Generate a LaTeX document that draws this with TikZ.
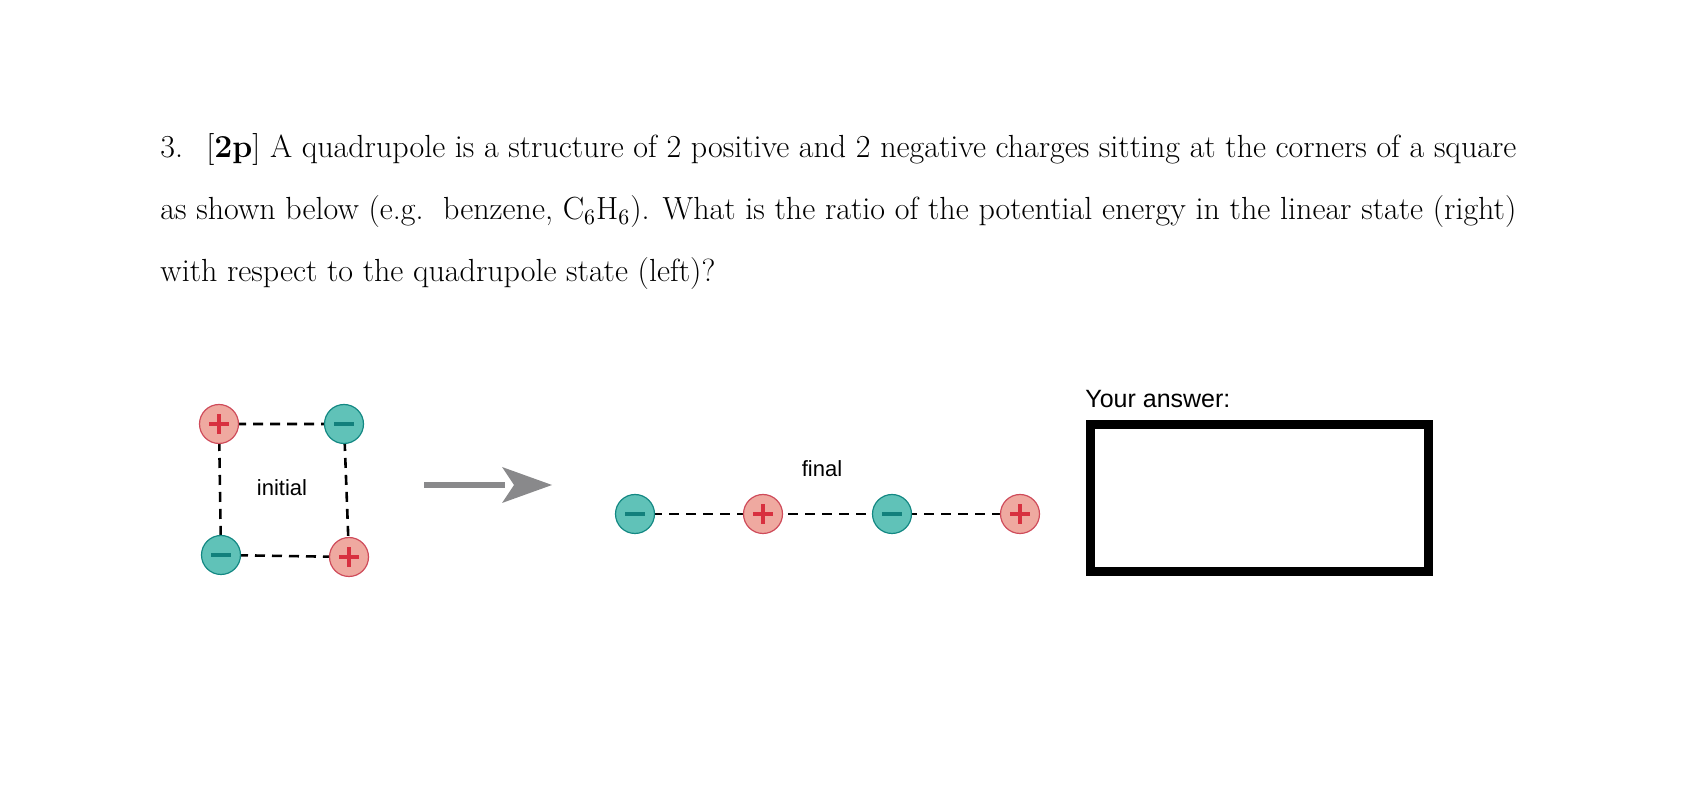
\documentclass[tikz,border=0pt]{standalone}
\usepackage{fontspec}
\newfontfamily\lab{Liberation Sans}
\definecolor{pfill}{HTML}{EFA9A0}
\definecolor{pdraw}{HTML}{CF4B5A}
\definecolor{psign}{HTML}{D8303F}
\definecolor{mfill}{HTML}{60C2B8}
\definecolor{mdraw}{HTML}{138883}
\definecolor{msign}{HTML}{12807C}
\definecolor{arrgray}{HTML}{89898B}
\begin{document}
\begin{tikzpicture}[x=0.5pt,y=-0.5pt,
  poscharge/.style={circle,fill=pfill,draw=pdraw,line width=0.6pt,minimum size=19.5pt,inner sep=0pt,
    path picture={\draw[psign,line width=1.6pt] ([xshift=-5pt]path picture bounding box.center)--([xshift=5pt]path picture bounding box.center) ([yshift=-5pt]path picture bounding box.center)--([yshift=5pt]path picture bounding box.center);}},
  negcharge/.style={circle,fill=mfill,draw=mdraw,line width=0.6pt,minimum size=19.5pt,inner sep=0pt,
    path picture={\draw[msign,line width=1.8pt] ([xshift=-5pt]path picture bounding box.center)--([xshift=5pt]path picture bounding box.center);}},
  bond/.style={line width=1.3pt,dash pattern=on 5pt off 3.5pt},
  lbl/.style={font=\lab\fontsize{11}{13}\selectfont,inner sep=0pt}]
\useasboundingbox (0,0) rectangle (1704,806);
\node[anchor=north west,inner sep=0pt,text width=678pt,align=justify,font=\fontsize{16}{31}\selectfont] (q) at (160,133)
{\leavevmode\hangindent=23pt\hangafter=1\makebox[23pt][l]{3.}[\textbf{2p}] A quadrupole is a structure of 2 positive and 2 negative charges sitting at the corners of a square as shown below (e.g.\ \ benzene, C$_6$H$_6$). What is the ratio of the potential energy in the linear state (right) with respect to the quadrupole state (left)?};
\draw[bond] (219,424)--(344,424) (219,424)--(221,555) (221,555)--(349,557) (344,424)--(349,557);
\node[poscharge] (a) at (219,424) {};
\node[negcharge] (b) at (344,424) {};
\node[negcharge] (c) at (221,555) {};
\node[poscharge] (d) at (349,557) {};
\node[lbl] (ini) at (282,488) {initial};
\coordinate (as) at (424,485);
\coordinate (ae) at (552,485);
\draw[line width=3pt,color=arrgray] (as)--(505,485);
\fill[arrgray] (ae)--(502,467)--(514,485)--(502,503)--cycle;
\draw[bond] (635,514)--(1020,514);
\node[negcharge] (f1) at (635,514) {};
\node[poscharge] (f2) at (763,514) {};
\node[negcharge] (f3) at (892,514) {};
\node[poscharge] (f4) at (1020,514) {};
\node[lbl] (fin) at (822,469) {final};
\draw[line width=4.5pt] (1090,425) rectangle (1428,572);
\node[lbl,anchor=west,font=\lab\fontsize{12.5}{14}\selectfont] (ya) at (1085,399) {Your answer:};
\end{tikzpicture}
\end{document}
